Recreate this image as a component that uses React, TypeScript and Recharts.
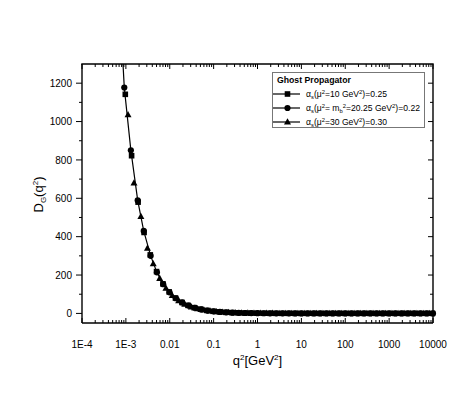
import React from 'react';
import { ScatterChart, Scatter, XAxis, YAxis, Legend } from 'recharts';

// ---- tick definitions ----
const xMajorTicks = [1e-4, 1e-3, 0.01, 0.1, 1, 10, 100, 1000, 10000];
const xTickLabels = ['1E-4', '1E-3', '0.01', '0.1', '1', '10', '100', '1000', '10000'];
const xMinorMultipliers = [2, 3, 4, 5, 6, 7, 8, 9];
const yMajorTicks = [0, 200, 400, 600, 800, 1000, 1200];
const yMinorTicks = [100, 300, 500, 700, 900, 1100];
const xDomain = [1e-4, 1e4];
const yDomain = [-50, 1300];

// ---- series: alpha_s(mu^2=10 GeV^2)=0.25 (squares) ----
const sqQ = [9.7e-4, 1.35e-3, 1.9e-3, 2.6e-3, 3.6e-3, 5.0e-3, 7.0e-3, 9.7e-3, 0.0135, 0.019, 0.026, 0.036, 0.05, 0.07, 0.097, 0.135, 0.19, 0.26, 0.36, 0.5, 0.7, 0.97, 1.35, 1.9, 2.6, 3.6, 5, 7, 9.7, 13.5, 19, 26, 36, 50, 70, 97, 135, 190, 260, 360, 500, 700, 970, 1350, 1900, 2600, 3600, 5000, 7000, 9700];
const sqD = [1142, 822, 580, 422, 305, 218, 154, 112, 80, 57, 42, 30, 22, 15.5, 11, 8, 5.6, 4.1, 3, 2.1, 1.5, 1.1, 0.8, 0.55, 0.4, 0.29, 0.21, 0.15, 0.11, 0.08, 0.06, 0.04, 0.03, 0.02, 0.015, 0.011, 0.008, 0.006, 0.004, 0.003, 0.002, 0.0015, 0.001, 0.0008, 0.0006, 0.0004, 0.0003, 0.0002, 0.00015, 0.0001];

// ---- series: alpha_s(mu^2=m_b^2=20.25 GeV^2)=0.22 (circles) ----
const ciQ = [9.2e-4, 1.3e-3, 1.86e-3, 2.55e-3, 3.67e-3, 5.1e-3, 7.1e-3, 0.0099, 0.0138, 0.0192, 0.0268, 0.0373, 0.052, 0.072, 0.1, 0.139, 0.193, 0.268, 0.373, 0.52, 0.72, 1.0, 1.39, 1.93, 2.68, 3.73, 5.2, 7.2, 10, 13.9, 19.3, 26.8, 37.3, 52, 72, 100, 139, 193, 268, 373, 520, 720, 1000, 1390, 1930, 2680, 3730, 5200, 7200, 10000];
const ciD = [1177, 850, 589, 430, 300, 214, 152, 110, 79, 57, 41, 29.5, 21, 15, 10.8, 7.8, 5.6, 4, 2.9, 2.1, 1.5, 1.1, 0.78, 0.56, 0.4, 0.29, 0.21, 0.15, 0.11, 0.08, 0.057, 0.041, 0.03, 0.021, 0.015, 0.011, 0.008, 0.006, 0.004, 0.003, 0.002, 0.0015, 0.0011, 0.0008, 0.0006, 0.0004, 0.0003, 0.0002, 0.00015, 0.0001];

// ---- series: alpha_s(mu^2=30 GeV^2)=0.30 (triangles) ----
const trQ = [1.12e-3, 1.53e-3, 2.2e-3, 3.1e-3, 4.2e-3, 5.9e-3, 8.2e-3, 0.0114, 0.016, 0.022, 0.031, 0.043, 0.06, 0.083, 0.116, 0.16, 0.22, 0.31, 0.43, 0.6, 0.83, 1.16, 1.6, 2.2, 3.1, 4.3, 6, 8.3, 11.6, 16, 22, 31, 43, 60, 83, 116, 160, 220, 310, 430, 600, 830, 1160, 1600, 2200, 3100, 4300, 6000, 8300];
const trD = [1036, 680, 505, 340, 259, 183, 131, 94, 67, 48, 34, 25, 18, 13, 9.2, 6.7, 4.9, 3.5, 2.5, 1.8, 1.3, 0.93, 0.67, 0.49, 0.35, 0.25, 0.18, 0.13, 0.093, 0.067, 0.049, 0.035, 0.025, 0.018, 0.013, 0.009, 0.0067, 0.0049, 0.0035, 0.0025, 0.0018, 0.0013, 0.0009, 0.00067, 0.00049, 0.00035, 0.00025, 0.00018, 0.00013];

// ---- connecting curve (enters through the top of the frame) ----
const curveQ = [8.6e-4, ...ciQ];
const curveD = [1300, ...ciD];

const seriesNames = [
  'αs(μ²=10 GeV²)=0.25',
  'αs(μ²= mb²=20.25 GeV²)=0.22',
  'αs(μ²=30 GeV²)=0.30',
];

const toPts = (qs: number[], ds: number[]) => qs.map((q, i) => ({ q, d: ds[i] }));
const squares = toPts(sqQ, sqD);
const circles = toPts(ciQ, ciD);
const triangles = toPts(trQ, trD);
const curve = toPts(curveQ, curveD);

const xMinorTicks: number[] = [];
xMajorTicks.slice(0, -1).forEach((v) => xMinorMultipliers.forEach((m) => xMinorTicks.push(Number((m * v).toPrecision(3)))));
const xTicks = [...xMajorTicks, ...xMinorTicks].sort((a, b) => a - b);
const yTicks = [...yMajorTicks, ...yMinorTicks].sort((a, b) => a - b);

const majorXIndex = (v: number) => xMajorTicks.findIndex((m) => Math.abs(m - v) / m < 1e-6);

const FONT = '"Liberation Sans", Arial, sans-serif';

// ---- layout ----
const CHART_W = 458;
const CHART_H = 370;
const MARGIN = { top: 56, right: 33, bottom: 54, left: 73 };
const AXIS_SIZE = 1;
const PLOT_X = MARGIN.left + AXIS_SIZE;
const PLOT_Y = MARGIN.top;
const PLOT_W = CHART_W - MARGIN.left - MARGIN.right - AXIS_SIZE;
const PLOT_H = CHART_H - MARGIN.top - MARGIN.bottom - AXIS_SIZE;
const FRAME_W = 1.4;

// mirrored-frame tick positions (same log / linear mapping as the chart axes)
const fracX = (v: number) => (Math.log10(v) - Math.log10(xDomain[0])) / (Math.log10(xDomain[1]) - Math.log10(xDomain[0]));
const fracY = (v: number) => (v - yDomain[0]) / (yDomain[1] - yDomain[0]);

const XTickBottom = (props: any) => {
  const { x, y, payload } = props;
  const i = majorXIndex(payload.value);
  const major = i >= 0;
  return (
    <g>
      <line x1={x} x2={x} y1={y} y2={y - (major ? 5 : 3)} stroke="#000" strokeWidth={1} />
      {major && (
        <text x={x} y={y + 25} textAnchor="middle" fontSize={10} fontFamily={FONT} fill="#000">
          {xTickLabels[i]}
        </text>
      )}
    </g>
  );
};

const YTickLeft = (props: any) => {
  const { x, y, payload } = props;
  const major = yMajorTicks.includes(payload.value);
  return (
    <g>
      <line x1={x} x2={x - (major ? 6 : 3)} y1={y} y2={y} stroke="#000" strokeWidth={1} />
      {major && (
        <text x={x - 10} y={y + 3.6} textAnchor="end" fontSize={10} fontFamily={FONT} fill="#000">
          {payload.value}
        </text>
      )}
    </g>
  );
};

const XTitle = (props: any) => {
  const vb = props.viewBox || {};
  const cx = vb.x + vb.width / 2;
  const y = vb.y + 42;
  return (
    <text x={cx} y={y} textAnchor="middle" fontSize={13} fontFamily={FONT} fill="#000">
      <tspan>q</tspan>
      <tspan dy={-5} fontSize={8}>2</tspan>
      <tspan dy={5}>[GeV</tspan>
      <tspan dy={-5} fontSize={8}>2</tspan>
      <tspan dy={5}>]</tspan>
    </text>
  );
};

const YTitle = (props: any) => {
  const vb = props.viewBox || {};
  const x = vb.x - 38;
  const y = vb.y + vb.height / 2 + 1;
  return (
    <text x={x} y={y} transform={`rotate(-90, ${x}, ${y})`} textAnchor="middle" fontSize={13} fontFamily={FONT} fill="#000">
      <tspan>D</tspan>
      <tspan dy={3} fontSize={8}>G</tspan>
      <tspan dy={-3}>(q</tspan>
      <tspan dy={-5} fontSize={8}>2</tspan>
      <tspan dy={5}>)</tspan>
    </text>
  );
};

const SquareShape = (p: any) => <rect x={p.cx - 2.8} y={p.cy - 2.8} width={5.6} height={5.6} fill="#000" />;
const CircleShape = (p: any) => <circle cx={p.cx} cy={p.cy} r={3.1} fill="#000" />;
const TriShape = (p: any) => (
  <polygon points={`${p.cx},${p.cy - 3.7} ${p.cx + 3.5},${p.cy + 2.6} ${p.cx - 3.5},${p.cy + 2.6}`} fill="#000" />
);
const NoShape = () => <g />;

const LegendIcon = ({ kind, y }: { kind: number; y: number }) => {
  const cx = 15.5;
  return (
    <g>
      <line x1={1} x2={28} y1={y} y2={y} stroke="#000" strokeWidth={1.2} />
      {kind === 0 && <rect x={cx - 2.8} y={y - 2.8} width={5.6} height={5.6} fill="#000" />}
      {kind === 1 && <circle cx={cx} cy={y} r={3.1} fill="#000" />}
      {kind === 2 && <polygon points={`${cx},${y - 3.7} ${cx + 3.5},${y + 2.6} ${cx - 3.5},${y + 2.6}`} fill="#000" />}
    </g>
  );
};

const renderLegend = () => {
  const fs = 8.6;
  const ss = 5.8;
  const rows = [22, 36, 50];
  return (
    <svg width={153} height={56} style={{ display: 'block', overflow: 'visible' }}>
      <rect x={0.5} y={0.5} width={152} height={55} fill="#fff" stroke="#777" strokeWidth={1} />
      <text x={5} y={11} fontSize={8.7} fontWeight="bold" fontFamily={FONT} fill="#000">Ghost Propagator</text>
      <LegendIcon kind={0} y={rows[0]} />
      <text x={34} y={rows[0] + 3.2} fontSize={fs} fontFamily={FONT} fill="#000">
        <tspan>α</tspan><tspan dy={2} fontSize={ss}>s</tspan><tspan dy={-2}>(μ</tspan><tspan dy={-3.5} fontSize={ss}>2</tspan><tspan dy={3.5}>=10 GeV</tspan><tspan dy={-3.5} fontSize={ss}>2</tspan><tspan dy={3.5}>)=0.25</tspan>
      </text>
      <LegendIcon kind={1} y={rows[1]} />
      <text x={34} y={rows[1] + 3.2} fontSize={fs} fontFamily={FONT} fill="#000">
        <tspan>α</tspan><tspan dy={2} fontSize={ss}>s</tspan><tspan dy={-2}>(μ</tspan><tspan dy={-3.5} fontSize={ss}>2</tspan><tspan dy={3.5}>= m</tspan><tspan dy={2} fontSize={ss}>b</tspan><tspan dy={-5.5} fontSize={ss}>2</tspan><tspan dy={3.5}>=20.25 GeV</tspan><tspan dy={-3.5} fontSize={ss}>2</tspan><tspan dy={3.5}>)=0.22</tspan>
      </text>
      <LegendIcon kind={2} y={rows[2]} />
      <text x={34} y={rows[2] + 3.2} fontSize={fs} fontFamily={FONT} fill="#000">
        <tspan>α</tspan><tspan dy={2} fontSize={ss}>s</tspan><tspan dy={-2}>(μ</tspan><tspan dy={-3.5} fontSize={ss}>2</tspan><tspan dy={3.5}>=30 GeV</tspan><tspan dy={-3.5} fontSize={ss}>2</tspan><tspan dy={3.5}>)=0.30</tspan>
      </text>
    </svg>
  );
};

// top and right sides of the box frame, with inward mirrored ticks
const FrameOverlay = () => {
  const right = PLOT_X + PLOT_W;
  const bottom = PLOT_Y + PLOT_H;
  return (
    <svg
      width={CHART_W}
      height={CHART_H}
      style={{ position: 'absolute', left: 0, top: 0, pointerEvents: 'none', zIndex: 5, overflow: 'visible' }}
    >
      <polyline
        points={`${PLOT_X - FRAME_W / 2},${PLOT_Y} ${right},${PLOT_Y} ${right},${bottom}`}
        fill="none"
        stroke="#000"
        strokeWidth={FRAME_W}
      />
      {xTicks.map((t) => {
        const x = PLOT_X + fracX(t) * PLOT_W;
        return <line key={`t${t}`} x1={x} x2={x} y1={PLOT_Y} y2={PLOT_Y + (majorXIndex(t) >= 0 ? 5 : 3)} stroke="#000" strokeWidth={1} />;
      })}
      {yTicks.map((v) => {
        const y = bottom - fracY(v) * PLOT_H;
        return <line key={`r${v}`} x1={right} x2={right - (yMajorTicks.includes(v) ? 5 : 3)} y1={y} y2={y} stroke="#000" strokeWidth={1} />;
      })}
    </svg>
  );
};

export default function App() {
  return (
    <div style={{ position: 'relative', width: CHART_W, height: CHART_H }}>
      <ScatterChart width={CHART_W} height={CHART_H} margin={MARGIN}>
        <XAxis
          xAxisId="b"
          type="number"
          dataKey="q"
          scale="log"
          domain={xDomain}
          ticks={xTicks}
          interval={0}
          tickSize={0}
          tickMargin={0}
          tick={<XTickBottom />}
          height={AXIS_SIZE}
          axisLine={{ stroke: '#000', strokeWidth: FRAME_W }}
          tickLine={false}
          label={<XTitle />}
        />
        <YAxis
          yAxisId="l"
          type="number"
          dataKey="d"
          domain={yDomain}
          ticks={yTicks}
          interval={0}
          tickSize={0}
          tickMargin={0}
          tick={<YTickLeft />}
          width={AXIS_SIZE}
          axisLine={{ stroke: '#000', strokeWidth: FRAME_W }}
          tickLine={false}
          label={<YTitle />}
        />
        <Legend
          layout="horizontal"
          verticalAlign="middle"
          align="center"
          content={renderLegend}
          wrapperStyle={{ position: 'absolute', left: 264, top: 64, width: 153, height: 56 }}
        />
        <Scatter
          name="curve"
          data={curve}
          xAxisId="b"
          yAxisId="l"
          line={{ stroke: '#000', strokeWidth: 1.2 }}
          shape={NoShape}
          legendType="none"
          isAnimationActive={false}
        />
        <Scatter name={seriesNames[0]} data={squares} xAxisId="b" yAxisId="l" shape={SquareShape} fill="#000" isAnimationActive={false} />
        <Scatter name={seriesNames[1]} data={circles} xAxisId="b" yAxisId="l" shape={CircleShape} fill="#000" isAnimationActive={false} />
        <Scatter name={seriesNames[2]} data={triangles} xAxisId="b" yAxisId="l" shape={TriShape} fill="#000" isAnimationActive={false} />
      </ScatterChart>
      <FrameOverlay />
    </div>
  );
}
